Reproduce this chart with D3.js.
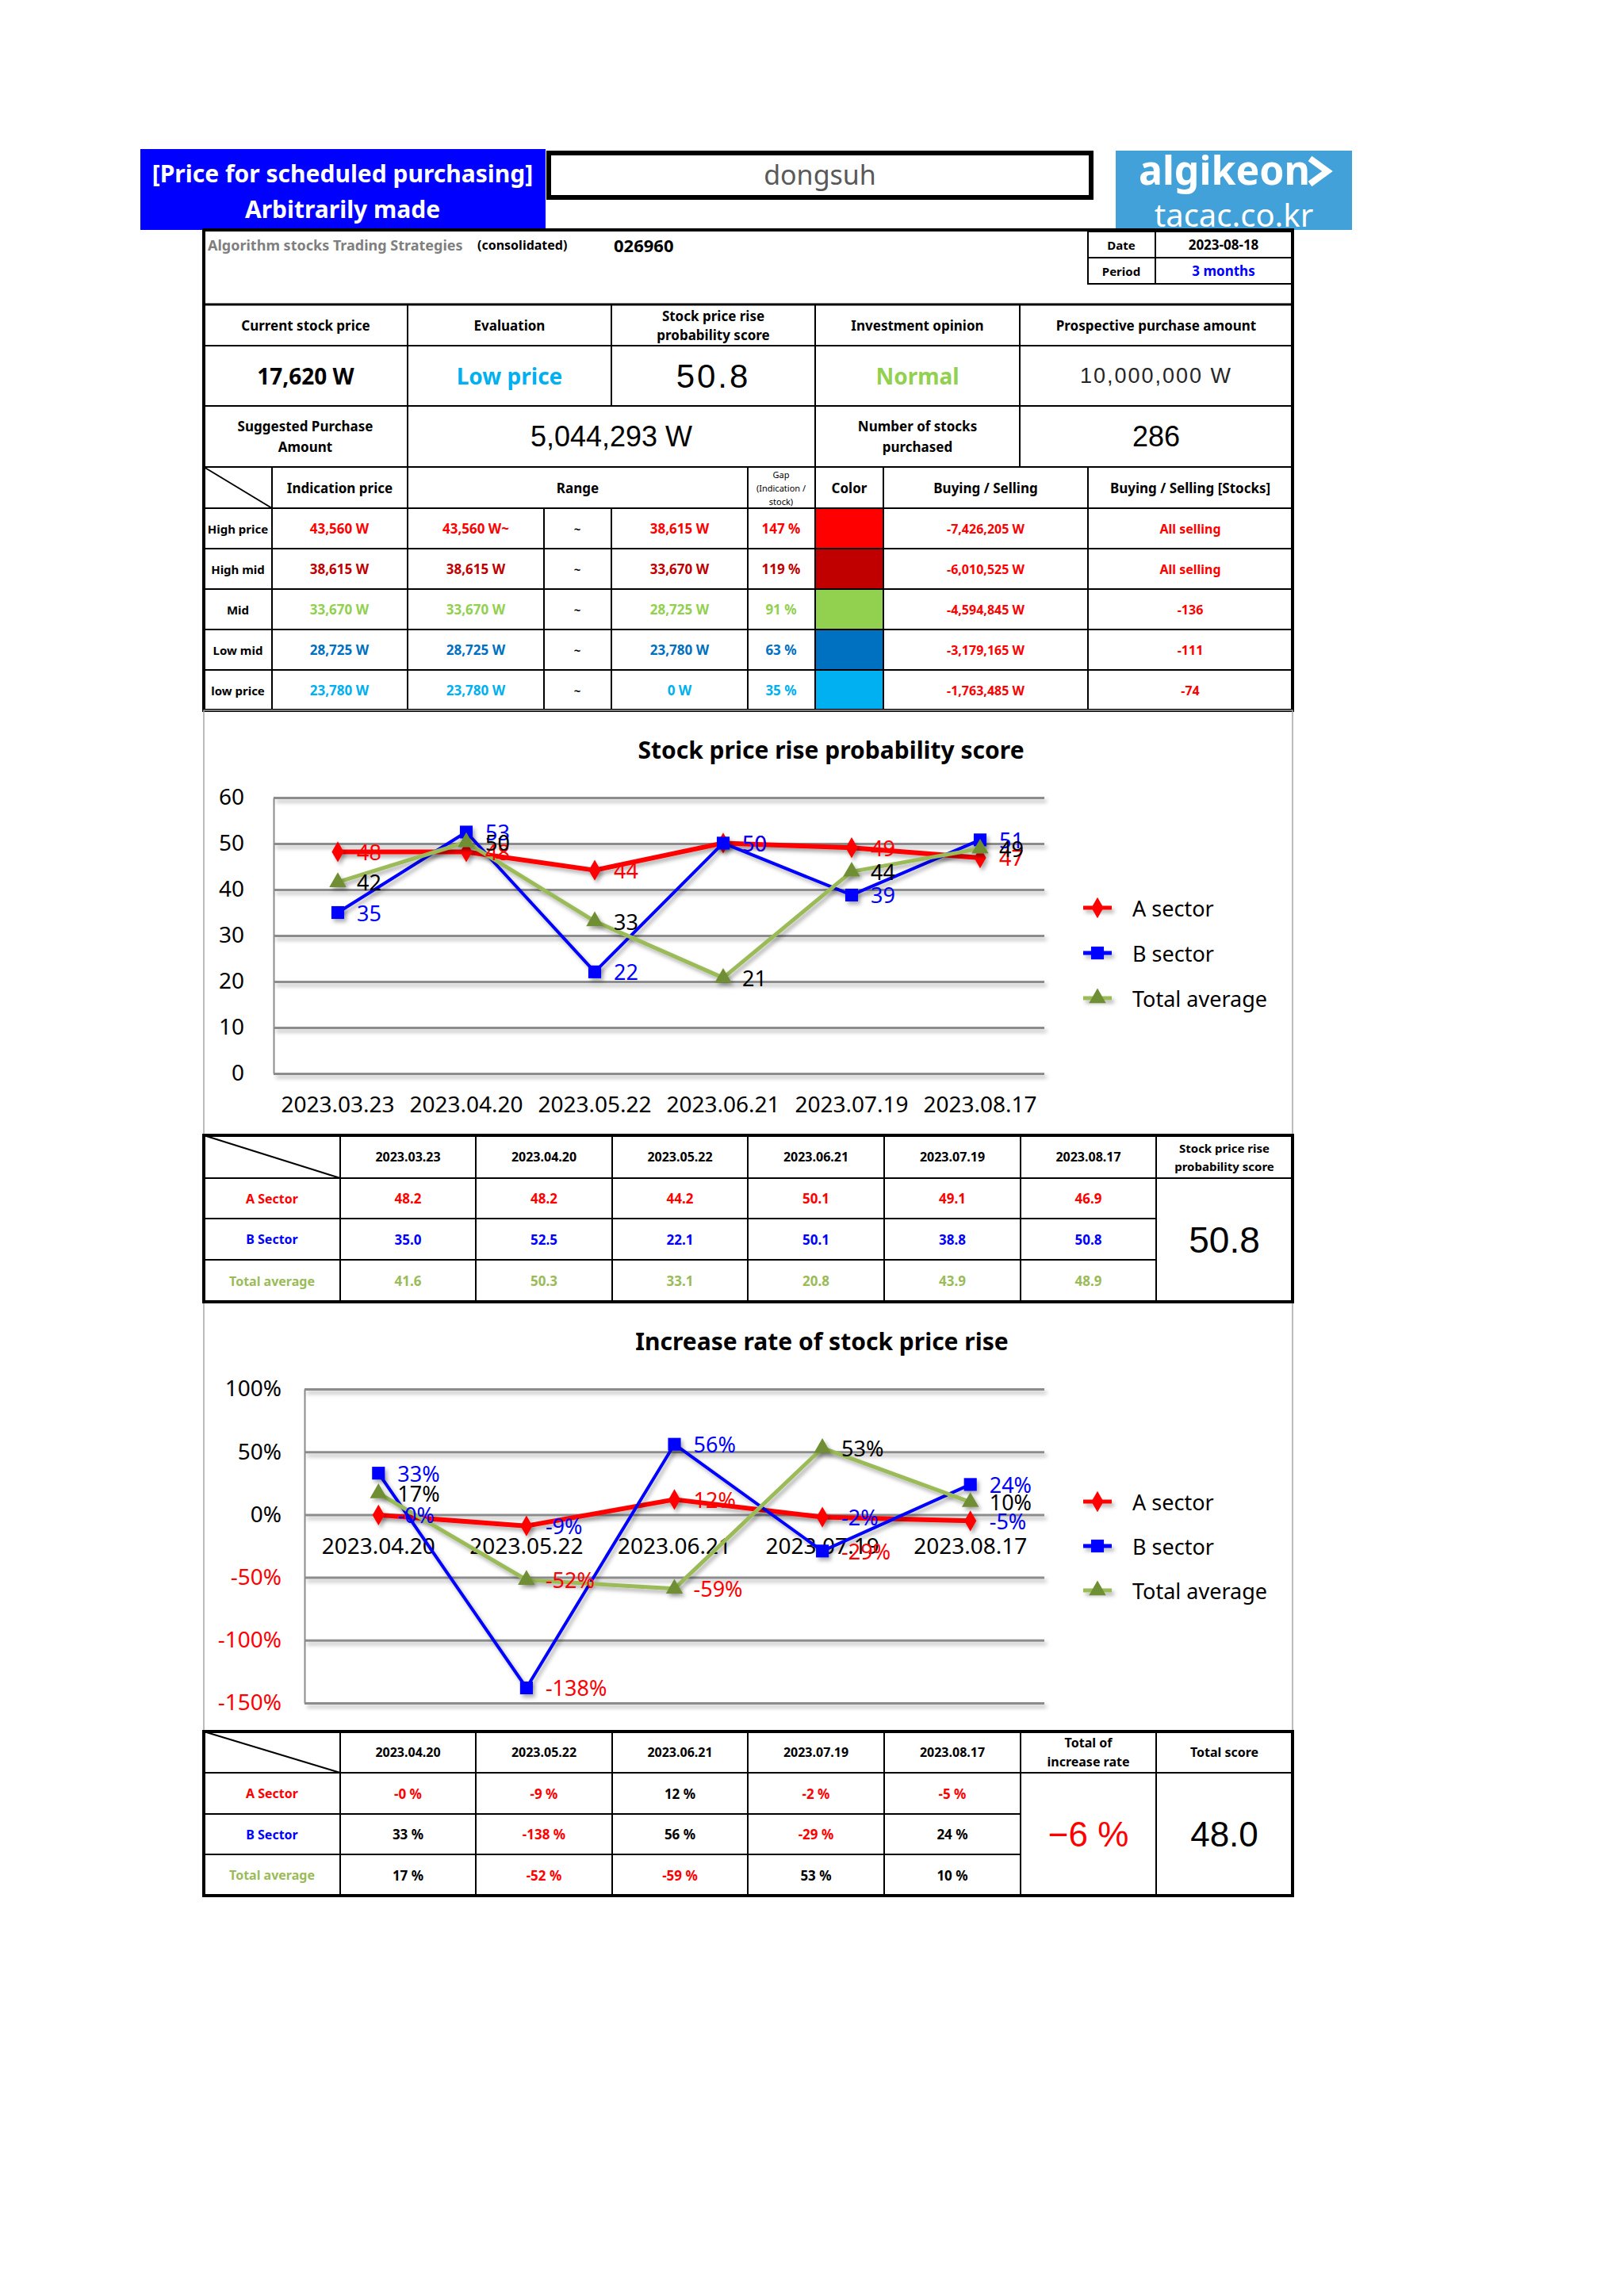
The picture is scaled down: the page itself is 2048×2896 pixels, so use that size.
<!DOCTYPE html>
<html>
<head>
<meta charset="utf-8">
<script src="https://cdn.jsdelivr.net/npm/d3@7"></script>
<style>
body { margin: 0; background: #fff; }
</style>
</head>
<body>
<div id="chart"></div>
<script>
var SANS = "'Noto Sans', 'Open Sans', sans-serif";
var ARIAL = "'Liberation Sans', Arial, sans-serif";

// ---- data read from the sheet ----
var bannerLines = ["[Price for scheduled purchasing]", "Arbitrarily made"];
var companyName = "dongsuh";
var stockCode = "026960";
var reportDate = "2023-08-18";
var reportPeriod = "3 months";

var summaryLabels = ["Current stock price", "Evaluation", "Stock price rise\nprobability score", "Investment opinion", "Prospective purchase amount"];
var summaryValues = ["17,620 W", "Low price", "50.8", "Normal", "10,000,000 W"];
var suggestedAmount = "5,044,293 W";
var stocksPurchased = "286";

var levelNames = ["High price", "High mid", "Mid", "Low mid", "low price"];
var indicationPrice = ["43,560 W", "38,615 W", "33,670 W", "28,725 W", "23,780 W"];
var rangeFrom = ["43,560 W~", "38,615 W", "33,670 W", "28,725 W", "23,780 W"];
var rangeTo = ["38,615 W", "33,670 W", "28,725 W", "23,780 W", "0 W"];
var gapPercent = ["147 %", "119 %", "91 %", "63 %", "35 %"];
var buySelling = ["-7,426,205 W", "-6,010,525 W", "-4,594,845 W", "-3,179,165 W", "-1,763,485 W"];
var buySellingStocks = ["All selling", "All selling", "-136", "-111", "-74"];

var sectorNames = ["A Sector", "B Sector", "Total average"];
var legendNames = ["A sector", "B sector", "Total average"];

var scoreDates = ["2023.03.23", "2023.04.20", "2023.05.22", "2023.06.21", "2023.07.19", "2023.08.17"];
var scoreA = [48.2, 48.2, 44.2, 50.1, 49.1, 46.9];
var scoreB = [35.0, 52.5, 22.1, 50.1, 38.8, 50.8];
var scoreAvg = [41.6, 50.3, 33.1, 20.8, 43.9, 48.9];
var scoreTicks = [0, 10, 20, 30, 40, 50, 60];
var probabilityScore = 50.8;

var rateDates = ["2023.04.20", "2023.05.22", "2023.06.21", "2023.07.19", "2023.08.17"];
var rateA = [-0.3, -9, 12, -2, -5];
var rateB = [33, -138, 56, -29, 24];
var rateAvg = [17, -52, -59, 53, 10];
var rateTicks = [-150, -100, -50, 0, 50, 100];
var totalRate = -6;
var totalScore = 48.0;

// ---- styles ----
var levelColors = ["#ff0000", "#c00000", "#92d050", "#0070c0", "#00b0f0"];
var sectorColors = ["#ff0000", "#0000ff", "#9bbb59"];

var W = 2048, H = 2896;
var svg = d3.select("#chart").append("svg").attr("width", W).attr("height", H);
svg.append("rect").attr("width", W).attr("height", H).attr("fill", "#fff");

// big user space region so flat lines and translated markers keep their shadow
svg.append("defs").append("filter").attr("id", "shadow")
   .attr("filterUnits", "userSpaceOnUse")
   .attr("x", -W).attr("y", -H).attr("width", 3 * W).attr("height", 3 * H)
   .append("feDropShadow").attr("dx", 3).attr("dy", 4).attr("stdDeviation", 2.5)
   .attr("flood-color", "#000").attr("flood-opacity", 0.3);

function put(x, y, s, o) {
     o = o || {};
     var size = o.size || 17;
     var lines = String(s).split("\n");
     var lh = o.lh || size * 1.35;
     var t = svg.append("text")
                .attr("text-anchor", o.anchor || "middle")
                .style("font-family", o.font || SANS)
                .style("font-size", size + "px")
                .style("font-weight", o.weight || "normal")
                .style("fill", o.color || "#000");
     if (o.spacing) t.style("letter-spacing", o.spacing + "px");
     lines.forEach(function(l, i) {
          t.append("tspan").attr("x", x)
           .attr("y", y + (i - (lines.length - 1) / 2) * lh)
           .attr("dominant-baseline", "central")
           .text(l);
     });
     return t;
}

function box(x0, y0, x1, y1, sw, stroke) {
     return svg.append("rect").attr("x", x0).attr("y", y0)
               .attr("width", x1 - x0).attr("height", y1 - y0)
               .attr("fill", "none").attr("stroke", stroke || "#000")
               .attr("stroke-width", sw || 2);
}

function diag(x0, y0, x1, y1) {
     svg.append("line").attr("x1", x0).attr("y1", y0).attr("x2", x1).attr("y2", y1)
        .attr("stroke", "#000").attr("stroke-width", 2);
}

// ---- banner ----
svg.append("rect").attr("x", 177).attr("y", 188).attr("width", 511).attr("height", 102).attr("fill", "#0000ff");
put(432, 218, bannerLines[0], {size: 30, weight: "bold", color: "#fff"});
put(432, 263, bannerLines[1], {size: 30, weight: "bold", color: "#fff"});

svg.append("rect").attr("x", 692).attr("y", 193).attr("width", 684).attr("height", 56)
   .attr("fill", "#fff").attr("stroke", "#000").attr("stroke-width", 6);
put(1034, 220, companyName, {size: 34, color: "#595959"});

svg.append("rect").attr("x", 1407).attr("y", 190).attr("width", 298).attr("height", 100).attr("fill", "#41a1d8");
put(1436, 214, "algikeon", {size: 50, weight: "bold", color: "#fff", anchor: "start"});
svg.append("path").attr("d", "M1652,200 L1674,216 L1652,232")
   .attr("fill", "none").attr("stroke", "#fff").attr("stroke-width", 8);
put(1556, 270, "tacac.co.kr", {size: 40, color: "#fff"});

// ---- top table ----
var L = 257, R = 1630;
var topCols = [257, 514, 771, 1028, 1286, 1630];
var lowCols = [257, 343, 514, 686, 771, 943, 1028, 1114, 1372, 1630];
var rowY = [641, 692, 743, 794, 845, 896];

put(262, 309, "Algorithm stocks Trading Strategies", {size: 18, weight: "bold", color: "#7f7f7f", anchor: "start"});
put(602, 309, "(consolidated)", {size: 16, weight: "bold", anchor: "start"});
put(774, 309, stockCode, {size: 22, weight: "bold", anchor: "start"});

[[292, 325], [325, 358]].forEach(function(r, i) {
     box(1372, r[0], 1457, r[1]);
     box(1457, r[0], R, r[1]);
     put(1414, (r[0] + r[1]) / 2, i ? "Period" : "Date", {size: 15, weight: "bold"});
     put(1543, (r[0] + r[1]) / 2, i ? reportPeriod : reportDate, {size: 17, weight: "bold", color: i ? "#0000ff" : "#000"});
});

var summaryStyles = [
     {size: 28, weight: "bold"},
     {size: 28, weight: "bold", color: "#00b0f0"},
     {size: 42, font: ARIAL, spacing: 3},
     {size: 28, weight: "bold", color: "#92d050"},
     {size: 27, font: ARIAL, color: "#262626", spacing: 2}
];
summaryLabels.forEach(function(s, i) {
     box(topCols[i], 384, topCols[i + 1], 436);
     box(topCols[i], 436, topCols[i + 1], 512);
     put((topCols[i] + topCols[i + 1]) / 2, 410, s, {size: 17, weight: "bold", lh: 24});
     put((topCols[i] + topCols[i + 1]) / 2, 474, summaryValues[i], summaryStyles[i]);
});

box(257, 512, 514, 589); box(514, 512, 1028, 589); box(1028, 512, 1286, 589); box(1286, 512, R, 589);
put(385, 550, "Suggested Purchase\nAmount", {size: 17, weight: "bold", lh: 26});
put(771, 550, suggestedAmount, {size: 36, font: ARIAL});
put(1157, 550, "Number of stocks\npurchased", {size: 17, weight: "bold", lh: 26});
put(1458, 550, stocksPurchased, {size: 36, font: ARIAL});

// column header row
var hdr = [[257, 343, ""], [343, 514, "Indication price"], [514, 943, "Range"], [943, 1028, ""],
           [1028, 1114, "Color"], [1114, 1372, "Buying / Selling"], [1372, R, "Buying / Selling [Stocks]"]];
hdr.forEach(function(h) {
     box(h[0], 589, h[1], 641);
     if (h[2]) put((h[0] + h[1]) / 2, 615, h[2], {size: 17, weight: "bold"});
});
diag(257, 589, 343, 641);
put(985, 615, "Gap\n(Indication /\nstock)", {size: 11, lh: 17});

levelNames.forEach(function(n, i) {
     var y0 = rowY[i], y1 = rowY[i + 1], cy = (y0 + y1) / 2, c = levelColors[i];
     svg.append("rect").attr("x", lowCols[6]).attr("y", y0).attr("width", lowCols[7] - lowCols[6])
        .attr("height", y1 - y0).attr("fill", c);
     for (var k = 0; k < lowCols.length - 1; k++) box(lowCols[k], y0, lowCols[k + 1], y1);
     put(300, cy, n, {size: 15, weight: "bold"});
     put(428, cy, indicationPrice[i], {size: 17, weight: "bold", color: c});
     put(600, cy, rangeFrom[i], {size: 17, weight: "bold", color: c});
     put(728, cy, "~", {size: 15, weight: "bold"});
     put(857, cy, rangeTo[i], {size: 17, weight: "bold", color: c});
     put(985, cy, gapPercent[i], {size: 17, weight: "bold", color: c});
     put(1243, cy, buySelling[i], {size: 16, weight: "bold", color: "#ff0000"});
     put(1501, cy, buySellingStocks[i], {size: 16, weight: "bold", color: "#ff0000"});
});
box(L, 290, R, 896, 4);
svg.append("line").attr("x1", L).attr("x2", R).attr("y1", 384).attr("y2", 384).attr("stroke", "#000").attr("stroke-width", 3);

// ---- charts ----
var symbols = [d3.symbolDiamond, d3.symbolSquare, d3.symbolTriangle];
var symbolSizes = [200, 260, 200];
var markerFill = ["#ff0000", "#0000ff", "#6f8f34"];
var lineWidths = [6, 4, 5];

function drawChart(o) {
     var g = svg.append("g");
     var x = d3.scaleBand().domain(o.dates).range([o.left, o.right]);
     var y = d3.scaleLinear().domain(o.domain).range([o.bottom, o.top]);
     var cx = function(i) { return x(o.dates[i]) + x.bandwidth() / 2; };

     put((o.left + o.right) / 2 + o.titleShift, o.titleY, o.title, {size: 30, weight: "bold"});

     var ya = g.append("g").attr("transform", "translate(" + o.left + ",0)")
               .call(d3.axisLeft(y).tickValues(o.ticks).tickSizeInner(-(o.right - o.left))
                       .tickSizeOuter(0).tickPadding(o.left - o.labelRight).tickFormat(o.tickFormat));
     ya.select(".domain").attr("stroke", "#8c8c8c").attr("stroke-width", 2);
     ya.selectAll(".tick line").attr("stroke", "#8c8c8c").attr("stroke-width", 3).attr("filter", "url(#shadow)");
     ya.selectAll(".tick text").style("font-family", SANS).style("font-size", "28px")
       .style("fill", function(d) { return d < 0 ? "#ff0000" : "#000"; });

     var xa = g.append("g").attr("transform", "translate(0," + y(o.xAt) + ")")
               .call(d3.axisBottom(x).tickSize(0).tickPadding(o.xPad));
     xa.select(".domain").remove();
     xa.selectAll(".tick text").style("font-family", SANS).style("font-size", "28px").style("fill", "#000");

     var line = d3.line().x(function(d, i) { return cx(i); }).y(function(d) { return y(d); });

     o.series.forEach(function(vals, s) {
          g.append("path").datum(vals).attr("d", line).attr("fill", "none")
           .attr("stroke", sectorColors[s]).attr("stroke-width", lineWidths[s])
           .attr("stroke-linejoin", "round").attr("filter", "url(#shadow)");
          g.selectAll(null).data(vals).enter().append("path")
           .attr("d", d3.symbol().type(symbols[s]).size(symbolSizes[s]))
           .attr("transform", function(d, i) { return "translate(" + cx(i) + "," + y(d) + ")"; })
           .attr("fill", markerFill[s]).attr("filter", "url(#shadow)");
     });

     o.series.forEach(function(vals, s) {
          vals.forEach(function(v, i) {
               put(cx(i) + 24, y(v), o.labelFormat(v), {size: 27, anchor: "start", color: o.labelColor(s, v)});
          });
     });

     legendNames.forEach(function(n, s) {
          var ly = o.legendY[s];
          g.append("line").attr("x1", 1366).attr("x2", 1402).attr("y1", ly).attr("y2", ly)
           .attr("stroke", sectorColors[s]).attr("stroke-width", 5).attr("filter", "url(#shadow)");
          g.append("path").attr("d", d3.symbol().type(symbols[s]).size(symbolSizes[s]))
           .attr("transform", "translate(1384," + ly + ")").attr("fill", markerFill[s]);
          put(1428, ly, n, {size: 27, anchor: "start"});
     });
}

function pct(v) { return (v < 0 ? "-" : "") + Math.abs(Math.round(v)) + "%"; }

box(L, 896, R, 1432, 1.5, "#a6a6a6");
drawChart({
     title: "Stock price rise probability score", titleY: 945, titleShift: 217,
     dates: scoreDates, series: [scoreA, scoreB, scoreAvg],
     domain: [0, 60], ticks: scoreTicks, tickFormat: function(d) { return d; },
     left: 345, right: 1317, top: 1006, bottom: 1354, labelRight: 308,
     xAt: 0, xPad: 29, legendY: [1145, 1202, 1259],
     labelFormat: function(v) { return Math.round(v); },
     labelColor: function(s) { return ["#ff0000", "#0000ff", "#000"][s]; }
});

box(L, 1642, R, 2184, 1.5, "#a6a6a6");
drawChart({
     title: "Increase rate of stock price rise", titleY: 1691, titleShift: 186,
     dates: rateDates, series: [rateA, rateB, rateAvg],
     domain: [-150, 100], ticks: rateTicks, tickFormat: function(d) { return d + "%"; },
     left: 384, right: 1317, top: 1752, bottom: 2148, labelRight: 355,
     xAt: 0, xPad: 30, legendY: [1894, 1950, 2006],
     labelFormat: pct,
     labelColor: function(s, v) {
          if (s === 0) return v < 0 ? "#0000ff" : "#ff0000";
          if (s === 1) return v < 0 ? "#ff0000" : "#0000ff";
          return v < 0 ? "#ff0000" : "#000";
     }
});

// ---- score table ----
var tCols = [257, 429, 600, 772, 943, 1115, 1287, 1458, 1630];
var t2Rows = [1432, 1486, 1537, 1589, 1642];
var scoreSeries = [scoreA, scoreB, scoreAvg];
box(tCols[0], t2Rows[0], tCols[1], t2Rows[1]);
diag(tCols[0], t2Rows[0], tCols[1], t2Rows[1]);
scoreDates.forEach(function(d, i) {
     box(tCols[i + 1], t2Rows[0], tCols[i + 2], t2Rows[1]);
     put((tCols[i + 1] + tCols[i + 2]) / 2, 1459, d, {size: 16, weight: "bold"});
});
box(tCols[7], t2Rows[0], tCols[8], t2Rows[1]);
put((tCols[7] + tCols[8]) / 2, 1459, "Stock price rise\nprobability score", {size: 15, weight: "bold", lh: 23});
sectorNames.forEach(function(n, s) {
     var y0 = t2Rows[s + 1], y1 = t2Rows[s + 2], cy = (y0 + y1) / 2;
     box(tCols[0], y0, tCols[1], y1);
     put((tCols[0] + tCols[1]) / 2, cy, n, {size: 16, weight: "bold", color: sectorColors[s]});
     scoreSeries[s].forEach(function(v, i) {
          box(tCols[i + 1], y0, tCols[i + 2], y1);
          put((tCols[i + 1] + tCols[i + 2]) / 2, cy, v.toFixed(1), {size: 17, weight: "bold", color: sectorColors[s]});
     });
});
box(tCols[7], t2Rows[1], tCols[8], t2Rows[4]);
put((tCols[7] + tCols[8]) / 2, (t2Rows[1] + t2Rows[4]) / 2, probabilityScore.toFixed(1), {size: 46, font: ARIAL});
box(L, t2Rows[0], R, t2Rows[4], 4);

// ---- rate table ----
var t3Rows = [2184, 2236, 2288, 2339, 2391];
var rateSeries = [rateA, rateB, rateAvg];
box(tCols[0], t3Rows[0], tCols[1], t3Rows[1]);
diag(tCols[0], t3Rows[0], tCols[1], t3Rows[1]);
rateDates.forEach(function(d, i) {
     box(tCols[i + 1], t3Rows[0], tCols[i + 2], t3Rows[1]);
     put((tCols[i + 1] + tCols[i + 2]) / 2, 2210, d, {size: 16, weight: "bold"});
});
box(tCols[6], t3Rows[0], tCols[7], t3Rows[1]);
put((tCols[6] + tCols[7]) / 2, 2210, "Total of\nincrease rate", {size: 16, weight: "bold", lh: 24});
box(tCols[7], t3Rows[0], tCols[8], t3Rows[1]);
put((tCols[7] + tCols[8]) / 2, 2210, "Total score", {size: 16, weight: "bold"});
sectorNames.forEach(function(n, s) {
     var y0 = t3Rows[s + 1], y1 = t3Rows[s + 2], cy = (y0 + y1) / 2;
     box(tCols[0], y0, tCols[1], y1);
     put((tCols[0] + tCols[1]) / 2, cy, n, {size: 16, weight: "bold", color: sectorColors[s]});
     rateSeries[s].forEach(function(v, i) {
          box(tCols[i + 1], y0, tCols[i + 2], y1);
          put((tCols[i + 1] + tCols[i + 2]) / 2, cy, pct(v).replace("%", " %"),
              {size: 17, weight: "bold", color: v < 0 ? "#ff0000" : "#000"});
     });
});
box(tCols[6], t3Rows[1], tCols[7], t3Rows[4]);
box(tCols[7], t3Rows[1], tCols[8], t3Rows[4]);
var midY = (t3Rows[1] + t3Rows[4]) / 2;
put((tCols[6] + tCols[7]) / 2, midY, (totalRate < 0 ? "\u2212" : "") + Math.abs(totalRate) + " %", {size: 44, font: ARIAL, color: "#ff0000"});
put((tCols[7] + tCols[8]) / 2, midY, totalScore.toFixed(1), {size: 44, font: ARIAL});
box(L, t3Rows[0], R, t3Rows[4], 4);
</script>
</body>
</html>
